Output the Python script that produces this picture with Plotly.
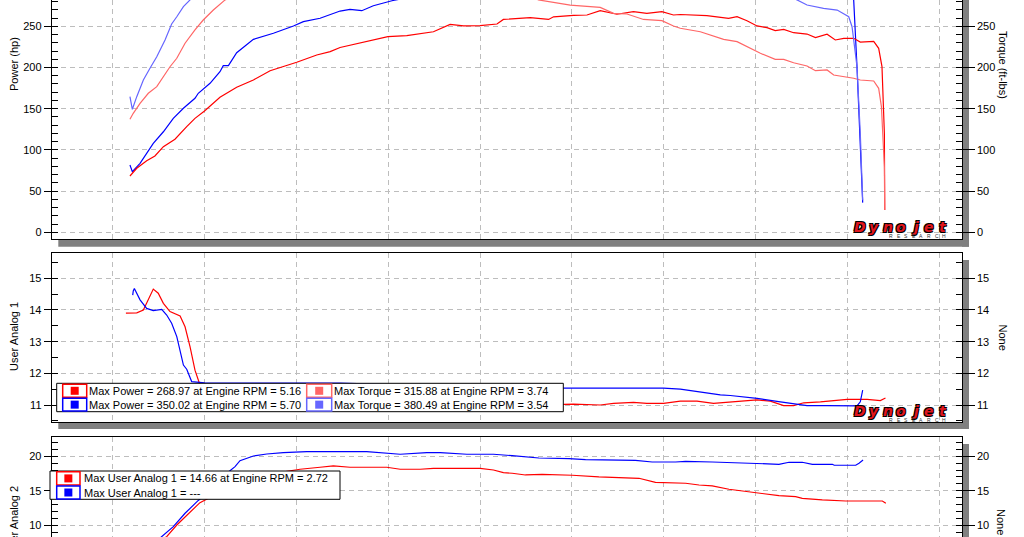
import plotly.graph_objects as go

W, H = 1024, 537

# ---------------- data (Engine RPM in thousands) ----------------
red_power_rpm = [2.594, 2.631, 2.685, 2.730, 2.776, 2.839, 2.903, 2.948, 3.000, 3.084, 3.175, 3.266, 3.357, 3.502, 3.611,
                 3.684, 3.738, 3.847, 3.998, 4.101, 4.246, 4.337, 4.410, 4.500, 4.592, 4.627, 4.773, 4.873, 4.900, 5.009,
                 5.082, 5.154, 5.245, 5.335, 5.408, 5.490, 5.553, 5.590, 5.735, 5.853, 5.899, 5.953, 6.008, 6.062, 6.107,
                 6.153, 6.207, 6.280, 6.326, 6.389, 6.434, 6.480, 6.534, 6.570, 6.643, 6.670, 6.688, 6.701, 6.703]
red_power_hp = [68.3, 77.7, 86.9, 92.6, 103.9, 112.9, 128.2, 138.3, 147.2, 163.8, 176.0, 184.8, 196.1, 206.3, 215.2,
                219.2, 224.3, 230.0, 237.4, 238.6, 243.4, 252.3, 250.4, 250.7, 252.8, 258.3, 260.4, 258.3, 261.5, 263.3,
                263.7, 269.0, 264.6, 267.7, 265.7, 267.7, 263.7, 264.3, 262.9, 259.7, 261.6, 256.8, 250.4, 248.3, 244.7,
                246.3, 242.2, 240.6, 236.2, 240.3, 233.4, 235.4, 235.4, 230.9, 231.8, 223.3, 201.0, 120.0, 27.0]

red_torque_rpm = [2.594, 2.612, 2.649, 2.694, 2.740, 2.776, 2.812, 2.849, 2.894, 2.948, 2.993, 3.048, 3.112, 3.266, 3.502,
                  3.738, 3.998, 4.246, 4.500, 4.773, 4.818, 4.991, 5.154, 5.227, 5.300, 5.390, 5.490, 5.553, 5.590, 5.699,
                  5.826, 5.899, 5.971, 6.026, 6.107, 6.153, 6.207, 6.280, 6.326, 6.389, 6.425, 6.498, 6.534, 6.570, 6.643,
                  6.670, 6.685, 6.701, 6.703]
red_torque = [137.1, 144.4, 156.5, 168.7, 176.7, 188.8, 200.9, 211.2, 229.4, 245.5, 257.6, 269.7, 282.0, 297.0, 309.0,
              315.9, 311.7, 300.8, 292.6, 286.7, 282.0, 275.8, 273.0, 265.7, 264.9, 258.3, 256.8, 250.4, 247.6, 243.4,
              234.2, 231.3, 223.3, 217.2, 209.9, 209.9, 205.8, 201.8, 196.1, 197.0, 190.9, 188.8, 186.9, 184.8, 183.6,
              174.7, 152.4, 79.6, 27.0]

blue_power_rpm = [2.594, 2.607, 2.649, 2.721, 2.776, 2.830, 2.885, 2.948, 2.966, 3.030, 3.084, 3.102, 3.130, 3.175, 3.266,
                  3.375, 3.484, 3.538, 3.629, 3.738, 3.792, 3.856, 3.919, 4.020, 4.337, 4.773, 5.154, 5.499, 5.699, 6.008,
                  6.226, 6.444, 6.507, 6.534, 6.552, 6.569, 6.583]
blue_power_hp = [81.7, 73.5, 83.7, 108.0, 122.0, 138.3, 150.5, 162.6, 168.7, 180.8, 194.9, 202.2, 202.2, 217.9, 234.2,
                 241.5, 250.4, 255.6, 259.7, 268.5, 270.6, 268.9, 274.9, 281.0, 295.0, 320.0, 338.0, 348.0, 350.0, 343.0,
                 334.0, 331.0, 318.0, 282.0, 201.0, 120.0, 36.0]

blue_torque_rpm = [2.594, 2.607, 2.631, 2.667, 2.703, 2.740, 2.785, 2.821, 2.849, 2.885, 2.921, 2.975, 3.112, 3.266, 3.538,
                   3.738, 4.020, 4.337, 4.773, 5.154, 5.699, 6.008, 6.226, 6.280, 6.370, 6.444, 6.507, 6.525, 6.552, 6.570,
                   6.583]
blue_torque = [164.6, 149.3, 164.6, 184.8, 199.0, 213.1, 233.4, 252.8, 261.6, 273.8, 282.0, 308.0, 346.0, 375.0, 380.5,
               378.7, 367.0, 357.0, 352.0, 345.0, 322.5, 300.0, 282.0, 275.8, 271.8, 269.7, 261.6, 249.5, 201.0, 120.0,
               39.0]

red_ua1_rpm = [2.572, 2.631, 2.667, 2.694, 2.721, 2.748, 2.776, 2.812, 2.839, 2.867, 2.894, 2.921, 2.948, 2.972, 3.0, 3.1,
               3.3, 3.6, 4.0, 4.4, 4.8, 4.954, 5.009, 5.154, 5.227, 5.335, 5.408, 5.499, 5.590, 5.681, 5.771, 5.862,
               6.008, 6.080, 6.153, 6.207, 6.262, 6.353, 6.498, 6.607, 6.679, 6.707]
red_ua1 = [13.90, 13.91, 14.00, 14.32, 14.66, 14.53, 14.21, 13.95, 13.87, 13.81, 13.47, 12.84, 12.10, 11.69, 11.4, 11.2,
           11.1, 11.05, 11.0, 11.0, 11.0, 11.02, 11.03, 11.00, 11.05, 11.08, 11.05, 11.05, 11.12, 11.12, 11.05, 11.10,
           11.16, 11.12, 10.98, 10.98, 11.07, 11.10, 11.18, 11.18, 11.14, 11.22]

blue_ua1_rpm = [2.609, 2.612, 2.618, 2.625, 2.649, 2.685, 2.721, 2.767, 2.794, 2.821, 2.849, 2.885, 2.903, 2.930, 3.0, 3.3,
                3.738, 4.3, 4.954, 5.354, 5.499, 5.590, 5.808, 5.862, 6.008, 6.135, 6.280, 6.389, 6.498, 6.552, 6.570,
                6.583]
blue_ua1 = [14.47, 14.60, 14.68, 14.60, 14.32, 14.05, 13.98, 14.02, 13.84, 13.58, 13.16, 12.26, 12.13, 11.74, 11.70, 11.69,
            11.69, 11.60, 11.53, 11.53, 11.53, 11.50, 11.32, 11.30, 11.21, 11.10, 10.98, 10.98, 10.97, 10.97, 11.10, 11.47]

red_ua2_rpm = [2.70, 2.794, 2.849, 2.903, 2.975, 3.1, 3.2, 3.3, 3.43, 3.52, 3.629, 3.701, 3.792, 3.883, 3.992, 4.065, 4.174,
               4.246, 4.500, 4.573, 4.627, 4.675, 4.747, 4.838, 5.002, 5.147, 5.365, 5.455, 5.619, 5.692, 5.764, 5.855,
               5.982, 6.127, 6.218, 6.254, 6.363, 6.491, 6.690, 6.709]
red_ua2 = [6.9, 8.35, 10.04, 11.49, 13.28, 15.0, 16.3, 17.2, 17.77, 18.12, 18.41, 18.60, 18.41, 18.41, 18.41, 18.12, 18.12,
           18.26, 18.26, 18.01, 17.62, 17.54, 17.29, 17.39, 17.25, 17.00, 16.81, 16.23, 16.09, 15.84, 15.70, 15.22,
           14.78, 14.29, 14.14, 13.91, 13.67, 13.52, 13.52, 13.19]

blue_ua2_rpm = [2.69, 2.767, 2.830, 2.894, 2.939, 2.966, 3.05, 3.12, 3.166, 3.193, 3.266, 3.339, 3.429, 3.557, 3.883, 3.938,
                3.992, 4.065, 4.210, 4.283, 4.428, 4.573, 4.675, 4.820, 4.984, 5.074, 5.346, 5.437, 5.564, 5.619, 5.764,
                5.910, 6.055, 6.127, 6.182, 6.254, 6.309, 6.418, 6.428, 6.545, 6.563, 6.585]
blue_ua2 = [6.6, 8.35, 9.80, 11.74, 12.94, 13.6, 15.5, 17.5, 18.5, 19.36, 20.04, 20.33, 20.52, 20.67, 20.67, 20.58, 20.43,
            20.29, 20.52, 20.52, 20.29, 20.29, 20.09, 19.75, 19.65, 19.51, 19.42, 19.17, 19.17, 19.27, 19.17, 19.03,
            18.93, 18.84, 19.13, 19.13, 18.84, 18.84, 18.70, 18.70, 19.00, 19.46]

legend1_labels = ["Max Power = 268.97 at Engine RPM = 5.16", "Max Power = 350.02 at Engine RPM = 5.70",
                  "Max Torque = 315.88 at Engine RPM = 3.74", "Max Torque = 380.49 at Engine RPM = 3.54"]
legend2_labels = ["Max User Analog 1 = 14.66 at Engine RPM = 2.72", "Max User Analog 1 = ---"]

RED, BLUE, LRED, LBLUE = "#FF0000", "#0000FF", "#FF6666", "#6666FF"
FONT = "Liberation Sans, Arial, sans-serif"

def X(p):
    return p / W

def Y(p):
    return 1 - p / H

fig = go.Figure()

def add(xs, ys, color, xa, ya):
    fig.add_trace(go.Scatter(x=xs, y=ys, mode="lines", line=dict(color=color, width=1.2),
                             xaxis=xa, yaxis=ya, showlegend=False, hoverinfo="skip"))

add(red_torque_rpm, red_torque, LRED, "x", "y2")
add(blue_torque_rpm, blue_torque, LBLUE, "x", "y2")
add(blue_power_rpm, blue_power_hp, BLUE, "x", "y")
add(red_power_rpm, red_power_hp, RED, "x", "y")
add(blue_ua1_rpm, blue_ua1, BLUE, "x2", "y4")
add(red_ua1_rpm, red_ua1, RED, "x2", "y3")
add(blue_ua2_rpm, blue_ua2, BLUE, "x3", "y6")
add(red_ua2_rpm, red_ua2, RED, "x3", "y5")

GRID = dict(showgrid=True, gridcolor="#BDBDBD", griddash="5px,4px", gridwidth=1)
xdom = [X(51.7), X(961.7)]
xr = [2.168, 7.122]
xbase = dict(domain=xdom, range=xr, dtick=0.5, tick0=0, showticklabels=False, ticks="",
             zeroline=False, linecolor="black", linewidth=1, **GRID)
tickfont = dict(family=FONT, size=11, color="black")


def yleft(dom, rng, dt, mdt, anchor):
    return dict(domain=dom, range=rng, dtick=dt, tick0=0, anchor=anchor, side="left",
                ticks="outside", ticklen=7, tickcolor="black", tickwidth=1,
                minor=dict(dtick=mdt, tick0=0, ticks="inside", ticklen=6, tickcolor="black", showgrid=False),
                showline=True, linecolor="black", linewidth=1, zeroline=False, tickfont=tickfont, **GRID)


def yright(rng, dt, mdt, anchor, over):
    return dict(range=rng, dtick=dt, tick0=0, anchor=anchor, overlaying=over, side="right",
                ticks="outside", ticklen=12, tickcolor="black", tickwidth=1,
                minor=dict(dtick=mdt, tick0=0, ticks="inside", ticklen=6, tickcolor="black", showgrid=False),
                showline=True, linecolor="black", linewidth=1, zeroline=False, showgrid=False, tickfont=tickfont)

r1 = [-8.5, 281.9]
r2 = [10.454, 15.79]
r3 = [8.30, 22.75]

fig.update_layout(
    width=W, height=H, margin=dict(l=0, r=0, t=0, b=0),
    paper_bgcolor="white", plot_bgcolor="white",
    font=dict(family=FONT, size=11, color="black"),
    xaxis=dict(anchor="y", showline=True, mirror=False, **xbase),
    xaxis2=dict(anchor="y3", showline=True, mirror=True, **xbase),
    xaxis3=dict(anchor="y5", showline=True, side="top", **xbase),
    yaxis=yleft([Y(239.3), 1.0], r1, 50, 10, "x"),
    yaxis2=yright(r1, 50, 10, "x", "y"),
    yaxis3=yleft([Y(422.3), Y(253.3)], r2, 1, 0.5, "x2"),
    yaxis4=yright(r2, 1, 0.5, "x2", "y3"),
    yaxis5=yleft([0.0, Y(437.3)], r3, 5, 1, "x3"),
    yaxis6=yright(r3, 5, 1, "x3", "y5"),
)

shapes = []
ann = []


def rect(x0, y0, x1, y1, fill, line=None, lw=0, layer="above"):
    shapes.append(dict(type="rect", xref="paper", yref="paper", x0=X(x0), x1=X(x1), y0=Y(y1), y1=Y(y0),
                       fillcolor=fill, line=dict(color=line or fill, width=lw), layer=layer))


def text(x, y, s, angle=0, xanchor="center", size=11, color="black", **kw):
    ann.append(dict(xref="paper", yref="paper", x=X(x), y=Y(y), text=s, showarrow=False, textangle=angle,
                    xanchor=xanchor, yanchor="middle", font=dict(family=FONT, size=size, color=color), **kw))

# drop shadows
SH = "#808080"
rect(58.3, 239.3, 969, 246.7, SH, layer="below")
rect(962, 0, 969, 246.7, SH, layer="below")
rect(58.3, 422.3, 969, 429, SH, layer="below")
rect(962, 260, 969, 429, SH, layer="below")
rect(962, 444, 969, 537, SH, layer="below")

# axis titles
text(14, 64, "Power (hp)", angle=-90)
text(14, 337, "User Analog 1", angle=-90)
text(14, 521, "User Analog 2", angle=-90)
text(1003, 65, "Torque (ft-lbs)", angle=90)
text(1003, 337.5, "None", angle=90)
text(1001, 522, "None", angle=90)

# legend boxes
def swatch(x0, y0, x1, y1, c):
    rect(x0, y0, x1, y1, "white", line=c, lw=1.5)
    cx, cy = (x0 + x1) / 2, (y0 + y1) / 2
    rect(cx - 4, cy - 4, cx + 4, cy + 4, c)

rect(56.7, 383.3, 563.3, 411.7, "white", line="black", lw=1)
swatch(62.7, 384.3, 86.7, 397.3, RED)
swatch(62.7, 398.3, 86.7, 411.0, BLUE)
swatch(306.7, 384.3, 331.7, 397.3, LRED)
swatch(306.7, 398.3, 331.7, 411.0, LBLUE)
text(87.3, 390.8, legend1_labels[0], xanchor="left")
text(87.3, 404.8, legend1_labels[1], xanchor="left")
text(332.3, 390.8, legend1_labels[2], xanchor="left")
text(332.3, 404.8, legend1_labels[3], xanchor="left")

rect(50, 471, 340, 499.3, "white", line="black", lw=1)
swatch(56.7, 471.8, 80, 485, RED)
swatch(56.7, 486, 80, 499, BLUE)
text(81.7, 478.4, legend2_labels[0], xanchor="left")
text(81.7, 492.6, legend2_labels[1], xanchor="left")

# Dynojet logos
logo_letters = ["D", "y", "n", "o", "j", "e", "t"]
sub_letters = ["R", "E", "S", "E", "A", "R", "C", "H"]
outline = "1px 1px 0 #000, -1px -1px 0 #000, 1px -1px 0 #000, -1px 1px 0 #000"
for ly in (227, 411):
    for i, ch in enumerate(logo_letters):
        ann.append(dict(xref="paper", yref="paper", x=X(860 + 13.8 * i), y=Y(ly), text="<b><i>%s</i></b>" % ch,
                        showarrow=False, xanchor="center", yanchor="middle",
                        font=dict(family="DejaVu Sans", size=14, color="#E0161E", shadow=outline)))
    for i, ch in enumerate(sub_letters):
        ann.append(dict(xref="paper", yref="paper", x=X(891 + 7.6 * i), y=Y(ly + 8.5), text=ch,
                        showarrow=False, xanchor="center", yanchor="middle",
                        font=dict(family=FONT, size=5, color="#333333")))

fig.update_layout(shapes=shapes, annotations=ann)
fig.write_html("out.html", config={"displayModeBar": False, "staticPlot": True},
               post_script="document.body.style.margin='0px';document.body.style.overflow='hidden';")
